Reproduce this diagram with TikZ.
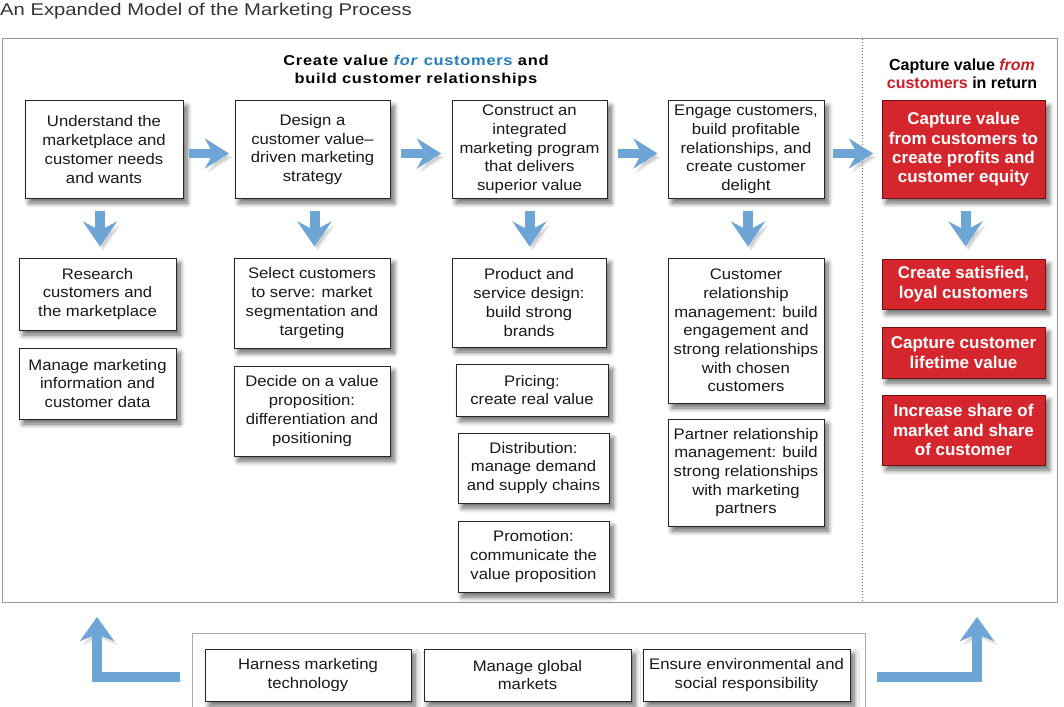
\documentclass[tikz,border=0pt]{standalone}
\usepackage{fontspec}
\setmainfont{Liberation Sans}
\newfontfamily\bodyfont{Liberation Sans}[FakeStretch=1.09]
\newfontfamily\headfont{Liberation Sans}[FakeStretch=1.15,LetterSpace=5]
\newfontfamily\titlefont{Liberation Sans}[FakeStretch=1.19]
\usetikzlibrary{arrows.meta,calc,shadows.blur}
\definecolor{arrblue}{RGB}{110,165,215}
\definecolor{boxred}{RGB}{212,38,44}
\definecolor{redline}{RGB}{110,20,20}
\definecolor{hblue}{RGB}{35,125,190}
\definecolor{hred}{RGB}{200,30,40}
\definecolor{framegray}{RGB}{150,150,150}
\tikzset{
  shd/.style={blur shadow={shadow xshift=4pt,shadow yshift=-5pt,shadow blur steps=8,shadow opacity=60,shadow blur radius=5pt}},
  ashd/.style={preaction={draw=black!50,opacity=0.22,transform canvas={xshift=3pt,yshift=-4pt}}},
  wbox/.style={draw=black!85,line width=1pt,fill=white,align=center,inner sep=0pt,shd,
    font=\bodyfont\fontsize{15.3pt}{18.7pt}\selectfont,text=black!90},
  rbox/.style={draw=redline,line width=1pt,fill=boxred,align=center,inner sep=0pt,shd,
    font=\bfseries\fontsize{17pt}{19.3pt}\selectfont,text=white},
  harr/.style={ashd,draw=arrblue,line width=9pt,-{Stealth[length=24pt,width=30pt,inset=8pt]}},
  varr/.style={ashd,draw=arrblue,line width=10pt,-{Stealth[length=25pt,width=34pt,inset=9pt]}},
  carr/.style={ashd,draw=arrblue,line width=10pt,line join=miter,-{Stealth[length=24pt,width=34pt,inset=7pt]}},
}
\begin{document}
\begin{tikzpicture}[x=1pt,y=-1pt]
\useasboundingbox (0,0) rectangle (1064,706);
\clip (0,0) rectangle (1064,706);

% title
\node[anchor=base west,inner sep=0pt,font=\titlefont\fontsize{17pt}{20pt}\selectfont,text=black!80] (T) at (0,16) {An Expanded Model of the Marketing Process};

% main frame
\node[draw=framegray,line width=0.8pt,minimum width=1055pt,minimum height=564pt,inner sep=0pt] (MF) at (529.5,320) {};
\draw[dotted,line width=1pt,black!60] (862,39) -- (862,601);

% headers
\node[align=center,inner sep=0pt,font=\headfont\bfseries\fontsize{14.3pt}{18pt}\selectfont] (H1) at (416,71)
  {Create value \textcolor{hblue}{\textit{for} customers} and\\build customer relationships};
\node[align=center,inner sep=0pt,font=\bfseries\fontsize{16pt}{18pt}\selectfont] (H2) at (962,74)
  {Capture value \textcolor{hred}{\textit{from}}\\\textcolor{hred}{customers} in return};

% top row
\node[wbox,minimum width=158pt,minimum height=97pt] (B1) at (104,149.5) {Understand the\\marketplace and\\customer needs\\and wants};
\node[wbox,minimum width=155pt,minimum height=97pt] (B2) at (312.5,149.5) {Design a\\customer value–\\driven marketing\\strategy};
\node[wbox,minimum width=155pt,minimum height=97pt] (B3) at (529.5,149.5) {Construct an\\integrated\\marketing program\\that delivers\\superior value};
\node[wbox,minimum width=156pt,minimum height=97pt] (B4) at (746,149.5) {Engage customers,\\build profitable\\relationships, and\\create customer\\delight};
\node[rbox,minimum width=163pt,minimum height=97pt] (R1) at (963.5,149.5) {Capture value\\from customers to\\create profits and\\customer equity};

% column 1
\node[wbox,minimum width=157pt,minimum height=72pt] (C1a) at (97.5,294) {Research\\customers and\\the marketplace};
\node[wbox,minimum width=157pt,minimum height=71pt] (C1b) at (97.5,383.5) {Manage marketing\\information and\\customer data};
% column 2
\node[wbox,minimum width=156pt,minimum height=90pt] (C2a) at (312,303) {Select customers\\to serve: market\\segmentation and\\targeting};
\node[wbox,minimum width=156pt,minimum height=90pt] (C2b) at (312,411) {Decide on a value\\proposition:\\differentiation and\\positioning};
% column 3
\node[wbox,minimum width=154pt,minimum height=89pt] (C3a) at (529,302.5) {Product and\\service design:\\build strong\\brands};
\node[wbox,minimum width=152pt,minimum height=52pt] (C3b) at (532,390) {Pricing:\\create real value};
\node[wbox,minimum width=151pt,minimum height=70pt] (C3c) at (533.5,468) {Distribution:\\manage demand\\and supply chains};
\node[wbox,minimum width=151pt,minimum height=71pt] (C3d) at (533.5,556.5) {Promotion:\\communicate the\\value proposition};
% column 4
\node[wbox,minimum width=156pt,minimum height=145pt] (C4a) at (746,330.5) {Customer\\relationship\\management: build\\engagement and\\strong relationships\\with chosen\\customers};
\node[wbox,minimum width=156pt,minimum height=107pt] (C4b) at (746,472.5) {Partner relationship\\management: build\\strong relationships\\with marketing\\partners};
% column 5
\node[rbox,minimum width=163pt,minimum height=50pt] (R2) at (963.5,284) {Create satisfied,\\loyal customers};
\node[rbox,minimum width=163pt,minimum height=51pt] (R3) at (963.5,352.5) {Capture customer\\lifetime value};
\node[rbox,minimum width=163pt,minimum height=70pt] (R4) at (963.5,430) {Increase share of\\market and share\\of customer};

% bottom
\node[draw=framegray!80,line width=0.8pt,fill=white,minimum width=673pt,minimum height=87pt,inner sep=0pt] (BF) at (528.5,676.5) {};
\node[wbox,minimum width=206pt,minimum height=52pt] (D1) at (308,675) {Harness marketing\\technology};
\node[wbox,minimum width=207pt,minimum height=52pt] (D2) at (527.5,675) {Manage global\\markets};
\node[wbox,minimum width=207pt,minimum height=52pt] (D3) at (746.5,675) {Ensure environmental and\\social responsibility};

% horizontal arrows
\foreach \a/\b in {B1/B2,B2/B3,B3/B4,B4/R1}
  \draw[harr] ($(\a.east)!.5!(\b.west)+(-20,4)$) -- ($(\a.east)!.5!(\b.west)+(20,4)$);
% down arrows
\foreach \n/\dx in {B1/-4,B2/2,B3/0,B4/2,R1/2}
  \draw[varr] ([xshift=\dx pt,yshift=-12pt]\n.south) -- ([xshift=\dx pt,yshift=-48pt]\n.south);
% corner arrows
\coordinate (LT) at (97,617);
\coordinate (RT) at (977,617);
\draw[carr] ([xshift=-12pt]BF.west) -| (LT);
\draw[carr] ([xshift=12pt]BF.east) -| (RT);
\end{tikzpicture}
\end{document}
